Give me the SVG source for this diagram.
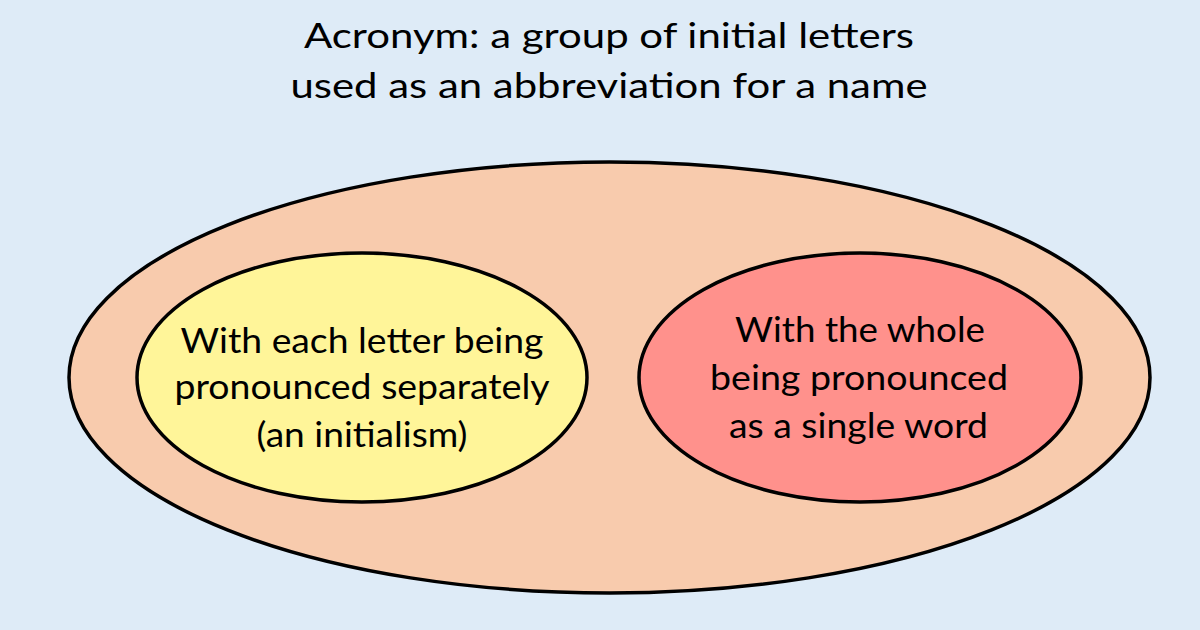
<svg xmlns="http://www.w3.org/2000/svg" width="1200" height="630" viewBox="0 0 1200 630">
  <style>
    .t { font-family: Lato, "Open Sans", "Liberation Sans", sans-serif; fill: #000; text-anchor: middle; }
    .title { font-size: 35px; }
    .lbl { font-size: 34px; }
    .shape { stroke: #000; stroke-width: 3.5; }
  </style>
  <rect x="0" y="0" width="1200" height="630" fill="#DEEBF7"/>
  <g id="title">
    <text class="t title" x="609" y="48" textLength="610" lengthAdjust="spacingAndGlyphs">Acronym: a group of initial letters</text>
    <text class="t title" x="609" y="98" textLength="637" lengthAdjust="spacingAndGlyphs">used as an abbreviation for a name</text>
  </g>
  <g id="acronym">
    <ellipse class="shape" cx="609.5" cy="377.5" rx="540.5" ry="215.5" fill="#F8CBAD"/>
  </g>
  <g id="initialism">
    <ellipse class="shape" cx="362" cy="377.5" rx="225" ry="124.5" fill="#FFF599"/>
    <text class="t lbl" x="362" y="353" textLength="363" lengthAdjust="spacingAndGlyphs">With each letter being</text>
    <text class="t lbl" x="362" y="399" textLength="375" lengthAdjust="spacingAndGlyphs">pronounced separately</text>
    <text class="t lbl" x="362" y="447" textLength="211" lengthAdjust="spacingAndGlyphs">(an initialism)</text>
  </g>
  <g id="word">
    <ellipse class="shape" cx="860" cy="377.5" rx="221" ry="124.5" fill="#FF918C"/>
    <text class="t lbl" x="860" y="342" textLength="250" lengthAdjust="spacingAndGlyphs">With the whole</text>
    <text class="t lbl" x="859" y="390" textLength="298" lengthAdjust="spacingAndGlyphs">being pronounced</text>
    <text class="t lbl" x="858.5" y="438" textLength="259" lengthAdjust="spacingAndGlyphs">as a single word</text>
  </g>
  <g id="connectors"/>
</svg>
